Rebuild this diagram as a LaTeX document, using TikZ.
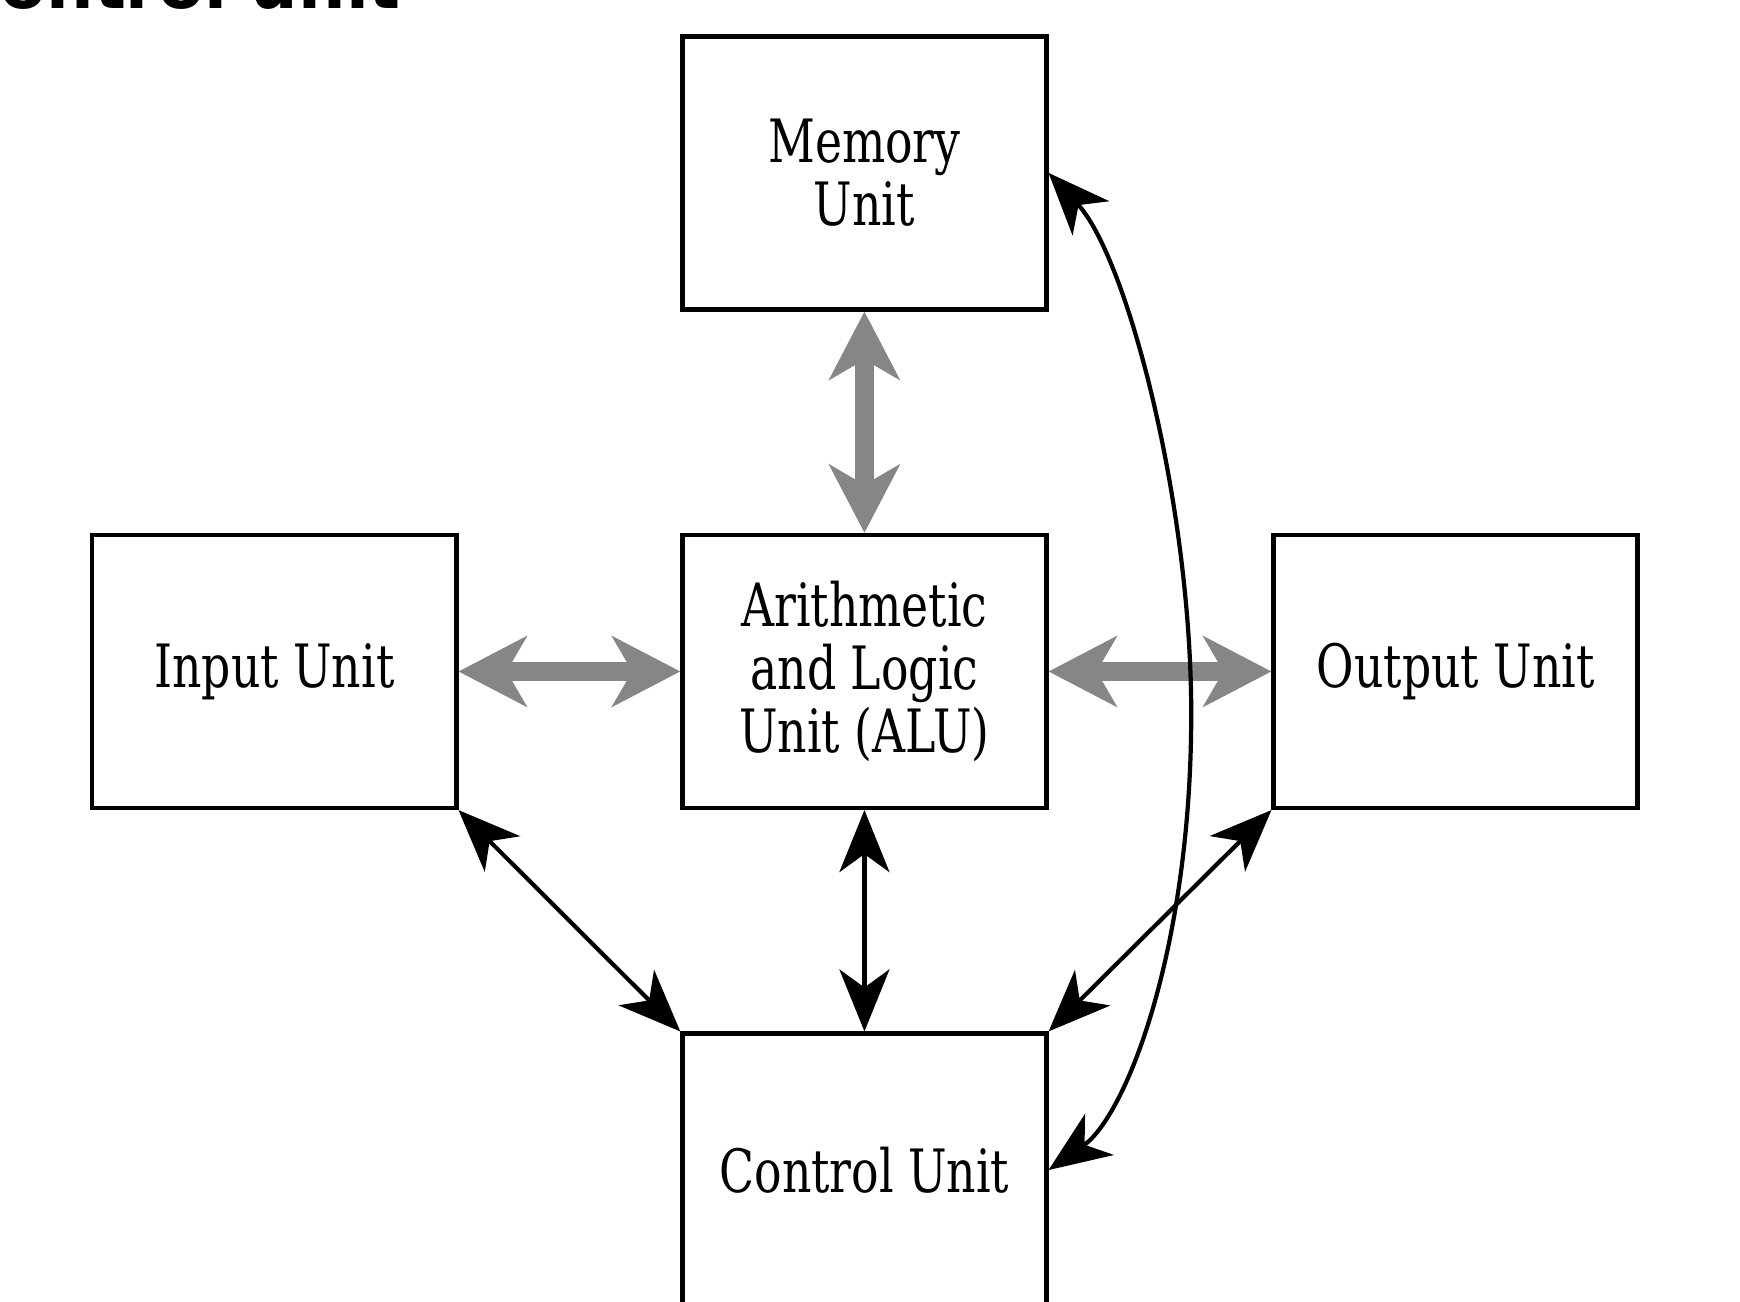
\documentclass[tikz,border=0pt]{standalone}
\usepackage{fontspec}
\setmainfont{DejaVu Serif Condensed}[FakeStretch=0.85]
\newfontfamily\titlefont{DejaVu Sans}
\usetikzlibrary{arrows.meta}
\tikzset{
  unit/.style={draw,line width=1.2pt,minimum width=3.64cm,minimum height=2.73cm,align=center,
    font=\fontsize{17}{18}\selectfont,inner sep=0pt},
  bus/.style={draw=gray!95,line width=0.19cm,
    {Stealth[length=0.68cm,width=0.7cm,inset=0.2cm]}-{Stealth[length=0.68cm,width=0.7cm,inset=0.2cm]}},
  ctl/.style={line width=1.2pt,
    {Stealth[length=0.62cm,width=0.5cm,inset=0.18cm]}-{Stealth[length=0.62cm,width=0.5cm,inset=0.18cm]}}
}
\begin{document}
\begin{tikzpicture}[x=0.01115cm,y=-0.01115cm]
\useasboundingbox (0,0) rectangle (1560,1167);
\node[anchor=base west,font=\titlefont\bfseries\fontsize{19}{19}\selectfont,inner sep=0pt] (title) at (-44,8) {Control unit};
\node[unit] (mem) at (775,155) {Memory\\Unit};
\node[unit] (alu) at (775,602) {Arithmetic\\and Logic\\Unit (ALU)};
\node[unit] (in) at (246,602) {Input Unit};
\node[unit] (out) at (1305,602) {Output Unit};
\node[unit] (ctl) at (775,1049) {Control Unit};
\draw[bus] (mem.south) -- (alu.north);
\draw[bus] (in.east) -- (alu.west);
\draw[bus] (alu.east) -- (out.west);
\draw[ctl] (in.south east) -- (ctl.north west);
\draw[ctl] (alu.south) -- (ctl.north);
\draw[ctl] (out.south west) -- (ctl.north east);
\coordinate (bend) at (1068,640);
\draw[line width=1.2pt,-{Stealth[length=0.62cm,width=0.5cm,inset=0.18cm]}]
  (bend) .. controls (1068,450) and (1010,230) .. (mem.east);
\draw[line width=1.2pt,-{Stealth[length=0.62cm,width=0.5cm,inset=0.18cm]}]
  (bend) .. controls (1068,850) and (1010,1000) .. (ctl.east);
\end{tikzpicture}
\end{document}
